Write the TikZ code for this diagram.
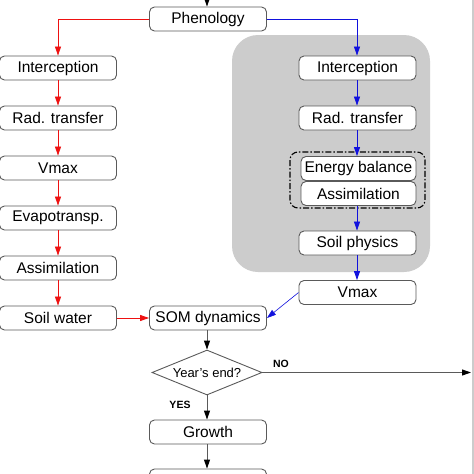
\documentclass[tikz,border=0pt]{standalone}
\usepackage{fontspec}
\setmainfont{Liberation Sans}
\usetikzlibrary{arrows.meta,shapes.geometric}
\definecolor{boxline}{HTML}{5A5A5A}
\definecolor{bgray}{HTML}{CCCCCC}
\definecolor{myred}{HTML}{EE1111}
\definecolor{myblue}{HTML}{1111DD}
\tikzset{
  procbox/.style={draw=boxline, line width=0.9pt, fill=white, rounded corners=5pt,
    minimum width=117pt, minimum height=24pt, inner sep=0pt,
    font=\fontsize{15.5}{18}\selectfont},
  decbox/.style={draw=boxline, line width=0.9pt, fill=white, shape=diamond, aspect=2.44,
    minimum width=110pt, minimum height=45pt, inner sep=0pt,
    font=\fontsize{13}{15}\selectfont},
  redarr/.style={-{Triangle[length=9pt,width=6pt]}, draw=myred, line width=0.8pt},
  bluearr/.style={-{Triangle[length=9pt,width=6pt]}, draw=myblue, line width=0.8pt},
  blackarr/.style={draw=boxline, line width=0.9pt, -{Triangle[length=9pt,width=6pt,fill=black,color=black]}},
  lbl/.style={font=\bfseries\fontsize{10.5}{12}\selectfont, inner sep=0pt}
}
\begin{document}
\begin{tikzpicture}[x=1pt,y=-1pt]
\useasboundingbox (0,0) rectangle (474,474);
\fill[white] (0,0) rectangle (474,474);
% right edge strip
\fill[bgray] (471.5,0) rectangle (474,474);
% gray background
\fill[bgray, rounded corners=26pt] (232,35) rectangle (430,272);
% dash-dot group
\draw[black, line width=1.1pt, rounded corners=8pt, dash pattern=on 6pt off 2pt on 1.5pt off 2pt] (290,152) rectangle (425,208);

\coordinate (top) at (207,0);
\node[procbox] (phen) at (208,19) {Phenology};

\node[procbox] (lint) at (58,68) {Interception};
\node[procbox] (lrad) at (58,118) {Rad. transfer};
\node[procbox] (lvmax) at (58,168) {Vmax};
\node[procbox] (levap) at (58,218) {Evapotransp.};
\node[procbox] (lass) at (58,268) {Assimilation};
\node[procbox] (lsoil) at (58,318) {Soil water};

\node[procbox] (rint) at (357.5,68) {Interception};
\node[procbox] (rrad) at (357.5,118) {Rad. transfer};
\node[procbox, minimum width=115pt] (reb) at (358.5,168.5) {Energy balance};
\node[procbox, minimum width=115pt] (rass) at (358.5,193.5) {Assimilation};
\node[procbox] (rsoil) at (357.5,243) {Soil physics};
\node[procbox] (rvmax) at (357.5,292.5) {Vmax};

\node[procbox] (som) at (208,318) {SOM dynamics};
\node[decbox] (dec) at (207,372.5) {Year's end?};
\node[procbox] (grow) at (208,432) {Growth};
\node[procbox] (next) at (208,481) {};
\coordinate (noend) at (471,372.5);

\node[lbl] at (281,364) {NO};
\node[lbl] at (180,405) {YES};

% top
\draw[blackarr] (top) -- (phen.north -| top);
% red chain
\draw[redarr] (phen.west) -| (lint.north);
\draw[redarr] (lint) -- (lrad);
\draw[redarr] (lrad) -- (lvmax);
\draw[redarr] (lvmax) -- (levap);
\draw[redarr] (levap) -- (lass);
\draw[redarr] (lass) -- (lsoil);
\draw[redarr] (lsoil) -- (som);
% blue chain
\draw[bluearr] (phen.east) -| (rint.north -| 357,0);
\draw[bluearr] (rint.south -| 357,0) -- (rrad.north -| 357,0);
\draw[bluearr] (rrad.south -| 357,0) -- (reb.north -| 357,0);
\draw[bluearr] (rass.south -| 357,0) -- (rsoil.north -| 357,0);
\draw[bluearr] (rsoil.south -| 357,0) -- (rvmax.north -| 357,0);
\draw[bluearr, line width=0.6pt] (rvmax.west) -- (som.east);
% black
\draw[blackarr] (som.south -| dec) -- (dec.north);
\draw[blackarr] (dec.east) -- (noend);
\draw[blackarr] (dec.south) -- (grow.north -| dec);
\draw[blackarr] (grow.south -| dec) -- (next.north -| dec);
\end{tikzpicture}
\end{document}
